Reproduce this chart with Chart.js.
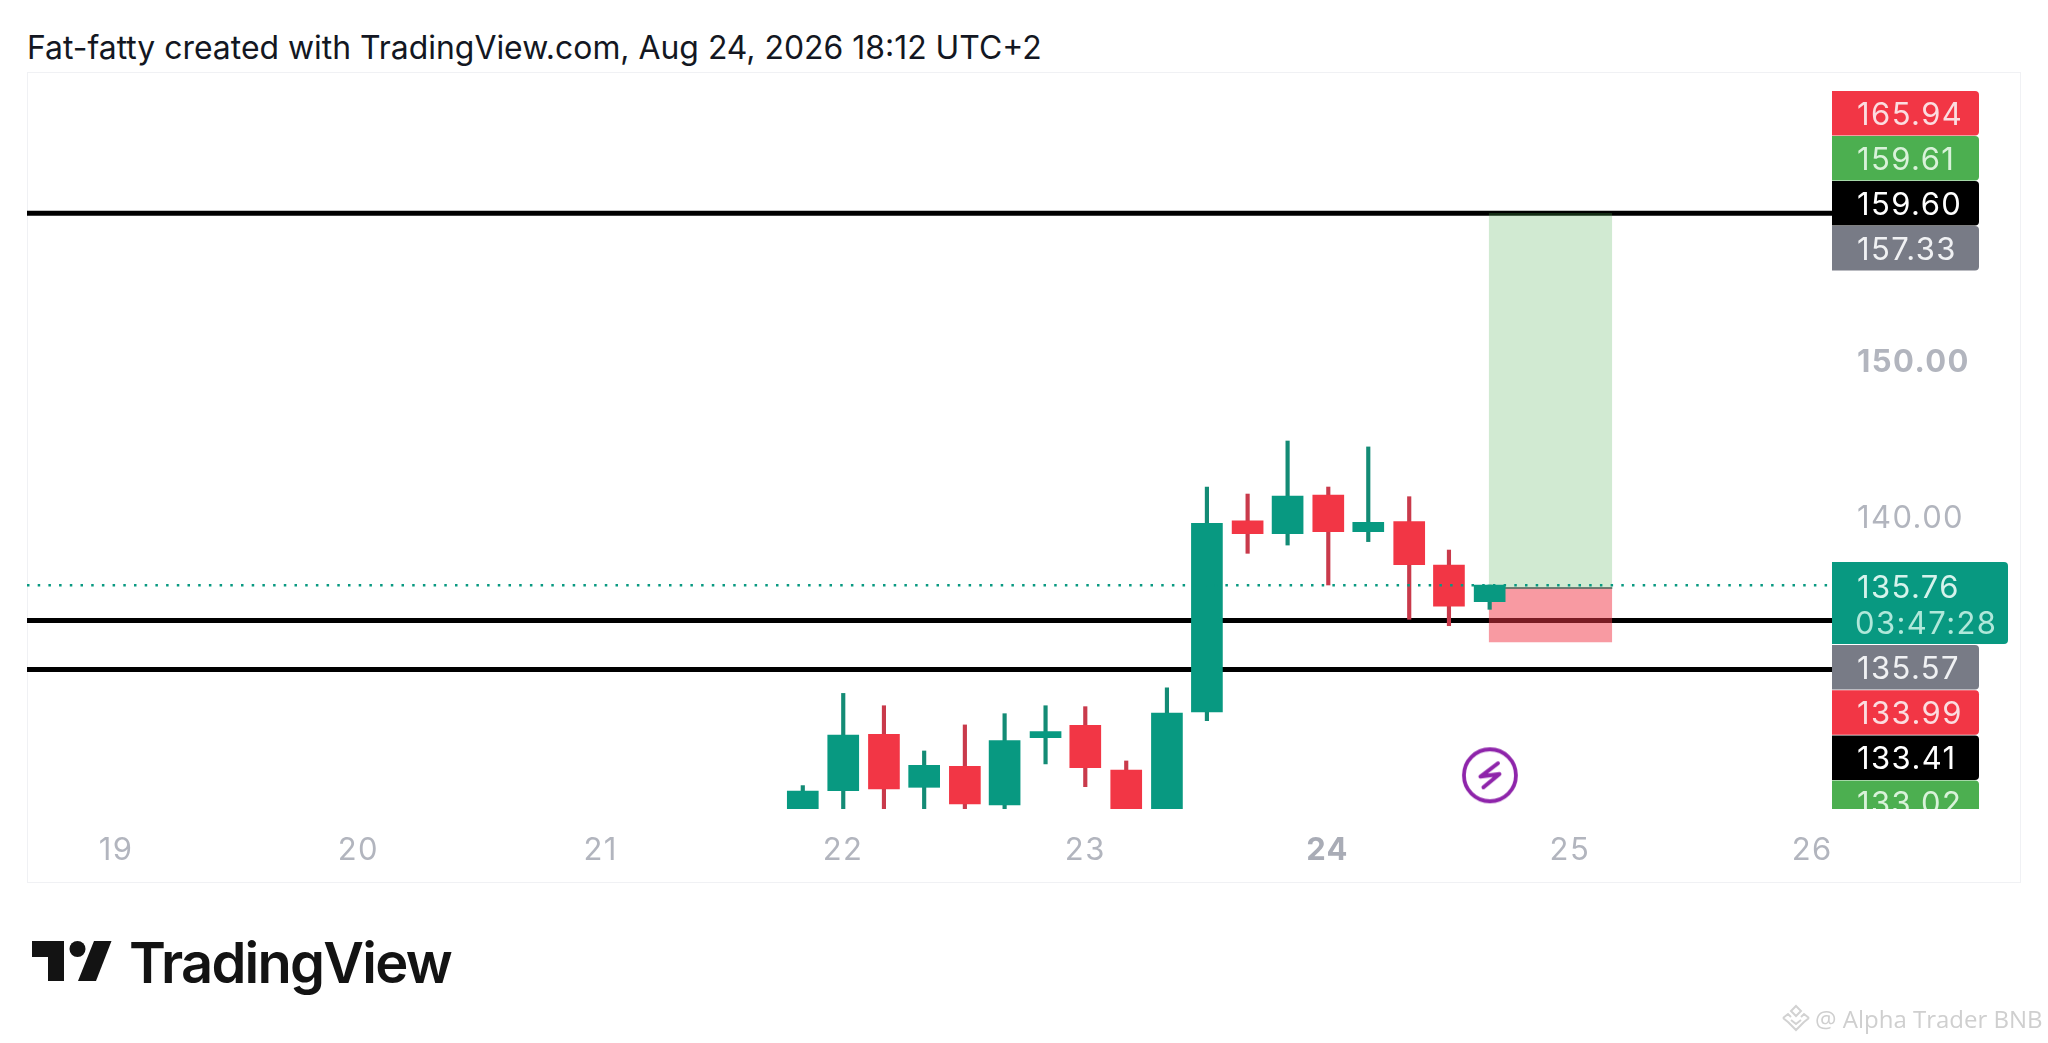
<!DOCTYPE html>
<html>
<head>
<meta charset="utf-8">
<title>TradingView chart</title>
<script src="https://cdn.jsdelivr.net/npm/chart.js@4"></script>
<style>
  html, body { margin: 0; padding: 0; background: #fff; overflow: hidden; }
  #page { position: relative; width: 2048px; height: 1043px; }
  #frame { position: absolute; left: 27px; top: 72px; width: 1994px; height: 811px; border: 1px solid #f0f1f4; box-sizing: border-box; }
  #c { position: absolute; left: 0; top: 0; }
  #head { position: absolute; left: 27px; top: 28px; font: 400 31.9px Inter, sans-serif; color: #131722; white-space: nowrap; }
  #mark { position: absolute; left: 32px; top: 941px; }
  #word { position: absolute; left: 129px; top: 929px; font: 600 56px Inter, sans-serif; letter-spacing: -1.75px; color: #131313; white-space: nowrap; }
  #wm { position: absolute; left: 1815px; top: 1002px; font: 400 24px "Open Sans", sans-serif; color: #cfcfcf; white-space: nowrap; }
  #wmicon { position: absolute; left: 1781px; top: 1003px; }
</style>
</head>
<body>
<div id="page">
  <div id="head">Fat-fatty created with TradingView.com, Aug 24, 2026 18:12 UTC+2</div>
  <div id="frame"></div>
  <canvas id="c" width="2048" height="1043"></canvas>
  <svg id="mark" width="82" height="42" viewBox="0 0 82 42">
    <path fill="#131313" d="M0 0H32V40H16V16H0Z"/>
    <circle fill="#131313" cx="45.5" cy="8" r="8"/>
    <path fill="#131313" d="M62 0H79.5L64 40H46Z"/>
  </svg>
  <div id="word">TradingView</div>
  <svg id="wmicon" width="30" height="30" viewBox="0 0 30 30" fill="none" stroke="#d2d2d2" stroke-width="2">
    <path d="M15 3L20 8L15 13L10 8Z"/><path d="M2 15L7 11L10 14M28 15L23 11L20 14M2 15L7 19M28 15L23 19M7 19L15 27L23 19M10 17L15 21L20 17"/>
  </svg>
  <div id="wm">@ Alpha Trader BNB</div>
</div>
<script>
// candles, 4h, x in days of the month
const candleDays = [21.834, 22.001, 22.169, 22.335, 22.503, 22.667, 22.836, 23.000, 23.169, 23.337, 23.502, 23.670, 23.835, 24.003, 24.168, 24.337, 24.501, 24.669];
const candleOpen = [121.00, 122.59, 126.20, 122.80, 124.15, 121.67, 125.98, 126.77, 123.91, 121.00, 127.64, 139.89, 139.06, 141.54, 139.19, 139.83, 137.05, 134.70];
const candleClose = [122.56, 126.15, 122.69, 124.21, 121.73, 125.79, 126.37, 124.06, 121.00, 127.56, 139.72, 139.06, 141.47, 139.19, 139.79, 137.07, 134.42, 135.77];
const candleHigh = [122.91, 128.82, 128.03, 125.13, 126.80, 127.52, 128.03, 127.97, 124.49, 129.17, 142.05, 141.60, 145.00, 142.05, 144.62, 141.43, 138.01, 135.77];
const candleLow = [121.00, 121.00, 121.00, 121.00, 121.20, 121.30, 124.30, 122.84, 121.00, 121.00, 127.07, 137.80, 138.33, 135.77, 138.55, 133.57, 133.16, 134.21];

const dayTicks = [19, 20, 21, 22, 23, 24, 25, 26];
const priceTicks = [140, 150];
const boldDay = 24;
const boldPrice = 150;

const levels = [159.60, 133.50, 130.36];
const lastPrice = 135.76;
const countdown = "03:47:28";

const zoneDays = [24.665, 25.175];
const entryPrice = 135.57;
const targetPrice = 159.61;
const stopPrice = 132.10;

const signalDay = [24.67];
const signalPrice = [123.57];

const tagsUpper = ["165.94", "159.61", "159.60", "157.33"];
const tagsLower = ["135.57", "133.99", "133.41", "133.02"];

const UP = "#089981", DOWN = "#f23645";
const UP_WICK = "#138b75", DOWN_WICK = "#c93a4b";
const TAG_GREEN = "#4caf50", TAG_GREY = "#787b86", TICK = "#b2b5be";
const upperColors = [DOWN, TAG_GREEN, "#000000", TAG_GREY];
const upperText = ["#fbdde0", "#d9f2da", "#ffffff", "#f0f1f3"];
const lowerColors = [TAG_GREY, DOWN, "#000000", TAG_GREEN];
const lowerText = ["#f0f1f3", "#fbdde0", "#ffffff", "#d9f2da"];

const X_MIN = 18.632, X_MAX = 26.082;
const Y_MIN = 121.41, Y_MAX = 168.654;
const TRACKING = "1.4px";

// purple circle with bolt, used as point style
function signalIcon() {
  const s = document.createElement("canvas");
  s.width = 60; s.height = 60;
  const g = s.getContext("2d");
  g.translate(30, 30);
  g.strokeStyle = "#8e24aa";
  g.lineWidth = 3.8;
  g.beginPath();
  g.arc(0, 0, 26, 0, Math.PI * 2);
  g.stroke();
  g.lineJoin = "round";
  g.lineCap = "round";
  g.lineWidth = 4;
  g.beginPath();
  g.moveTo(8, -12);
  g.lineTo(-9.5, 1.3);
  g.lineTo(9.5, -1.3);
  g.lineTo(-6.5, 12);
  g.stroke();
  return s;
}

const hline = (y) => [{ x: X_MIN, y: y }, { x: X_MAX, y: y }];
const zoneLine = (y) => zoneDays.map((d) => ({ x: d, y: y }));

// stacked price tags on the right axis
const priceTags = {
  id: "priceTags",
  beforeDraw(chart) {
    chart.ctx.letterSpacing = TRACKING;
  },
  afterDraw(chart) {
    const c = chart.ctx;
    const left = 1832, width = 147, h = 45;
    const tag = (top, label, bg, fg) => {
      c.fillStyle = bg;
      c.beginPath();
      c.roundRect(left, top, width, h - 0.5, [0, 4, 4, 0]);
      c.fill();
      c.fillStyle = fg;
      c.fillText(label, left + 25, top + 24.5);
    };
    c.save();
    c.font = "400 31px Inter, sans-serif";
    c.textAlign = "left";
    c.textBaseline = "middle";
    tagsUpper.forEach((t, i) => tag(91 + i * 45, t, upperColors[i], upperText[i]));

    c.fillStyle = UP;
    c.beginPath();
    c.roundRect(left, 562, 176, 82, [0, 4, 4, 0]);
    c.fill();
    c.fillStyle = "#d6f3ec";
    c.fillText(lastPrice.toFixed(2), left + 25, 588.5);
    c.fillStyle = "#b0e8da";
    c.fillText(countdown, left + 23, 624.5);

    c.beginPath();
    c.rect(left - 2, 560, 200, 809 - 560);
    c.clip();
    tagsLower.forEach((t, i) => tag(645 + i * 45.2, t, lowerColors[i], lowerText[i]));
    c.restore();
  },
};

new Chart(document.getElementById("c"), {
  type: "bar",
  plugins: [priceTags],
  data: {
    datasets: [
      // candles on top, then zones, then level lines
      {
        type: "line",
        data: hline(lastPrice),
        borderColor: UP,
        borderWidth: 2.5,
        borderDash: [2.5, 8.2],
        pointRadius: 0,
        order: 1,
      },
      {
        type: "line",
        data: signalDay.map((d, i) => ({ x: d, y: signalPrice[i] })),
        showLine: false,
        pointStyle: signalIcon(),
        order: 1,
      },
      {
        data: candleDays.map((d, i) => ({ x: d, y: [candleOpen[i], candleClose[i]] })),
        backgroundColor: candleDays.map((d, i) => (candleClose[i] >= candleOpen[i] ? UP : DOWN)),
        barThickness: 31,
        grouped: false,
        order: 2,
      },
      {
        data: candleDays.map((d, i) => ({ x: d, y: [candleLow[i], candleHigh[i]] })),
        backgroundColor: candleDays.map((d, i) => (candleClose[i] >= candleOpen[i] ? UP_WICK : DOWN_WICK)),
        barThickness: 3.5,
        grouped: false,
        order: 3,
      },
      {
        type: "line",
        data: zoneLine(entryPrice),
        borderColor: "rgba(90,110,100,0.85)",
        borderWidth: 2,
        pointRadius: 0,
        fill: { value: stopPrice },
        backgroundColor: "rgba(242,54,69,0.5)",
        order: 4,
      },
      {
        type: "line",
        data: zoneLine(entryPrice),
        borderWidth: 0,
        pointRadius: 0,
        fill: { value: targetPrice },
        backgroundColor: "rgba(76,175,80,0.26)",
        order: 5,
      },
      ...levels.map((v) => ({
        type: "line",
        data: hline(v),
        borderColor: "#000000",
        borderWidth: 5,
        pointRadius: 0,
        order: 6,
      })),
    ],
  },
  options: {
    responsive: false,
    animation: false,
    layout: { padding: { left: 27, top: 72, right: 27, bottom: 160 } },
    plugins: { legend: { display: false }, tooltip: { enabled: false }, title: { display: false } },
    scales: {
      x: {
        type: "linear",
        offset: false,
        min: X_MIN,
        max: X_MAX,
        grid: { display: false, drawTicks: false },
        border: { display: false },
        afterBuildTicks: (a) => { a.ticks = dayTicks.map((v) => ({ value: v })); },
        afterFit: (a) => { a.height = 74; },
        ticks: {
          autoSkip: false,
          maxRotation: 0,
          padding: 23,
          color: (ctx) => (ctx.tick && ctx.tick.value === boldDay ? "#a9acb6" : TICK),
          font: (ctx) => ({
            family: "Inter, sans-serif",
            size: 31,
            weight: ctx.tick && ctx.tick.value === boldDay ? "700" : "400",
          }),
          callback: (v) => String(v),
        },
      },
      y: {
        position: "right",
        min: Y_MIN,
        max: Y_MAX,
        grid: { display: false, drawTicks: false },
        border: { display: false },
        afterBuildTicks: (a) => { a.ticks = priceTicks.map((v) => ({ value: v })); },
        afterFit: (a) => { a.width = 189; },
        ticks: {
          autoSkip: false,
          padding: 25,
          crossAlign: "near",
          color: TICK,
          font: (ctx) => ({
            family: "Inter, sans-serif",
            size: 31,
            weight: ctx.tick && ctx.tick.value === boldPrice ? "700" : "400",
          }),
          callback: (v) => v.toFixed(2),
        },
      },
    },
  },
});
</script>
</body>
</html>
